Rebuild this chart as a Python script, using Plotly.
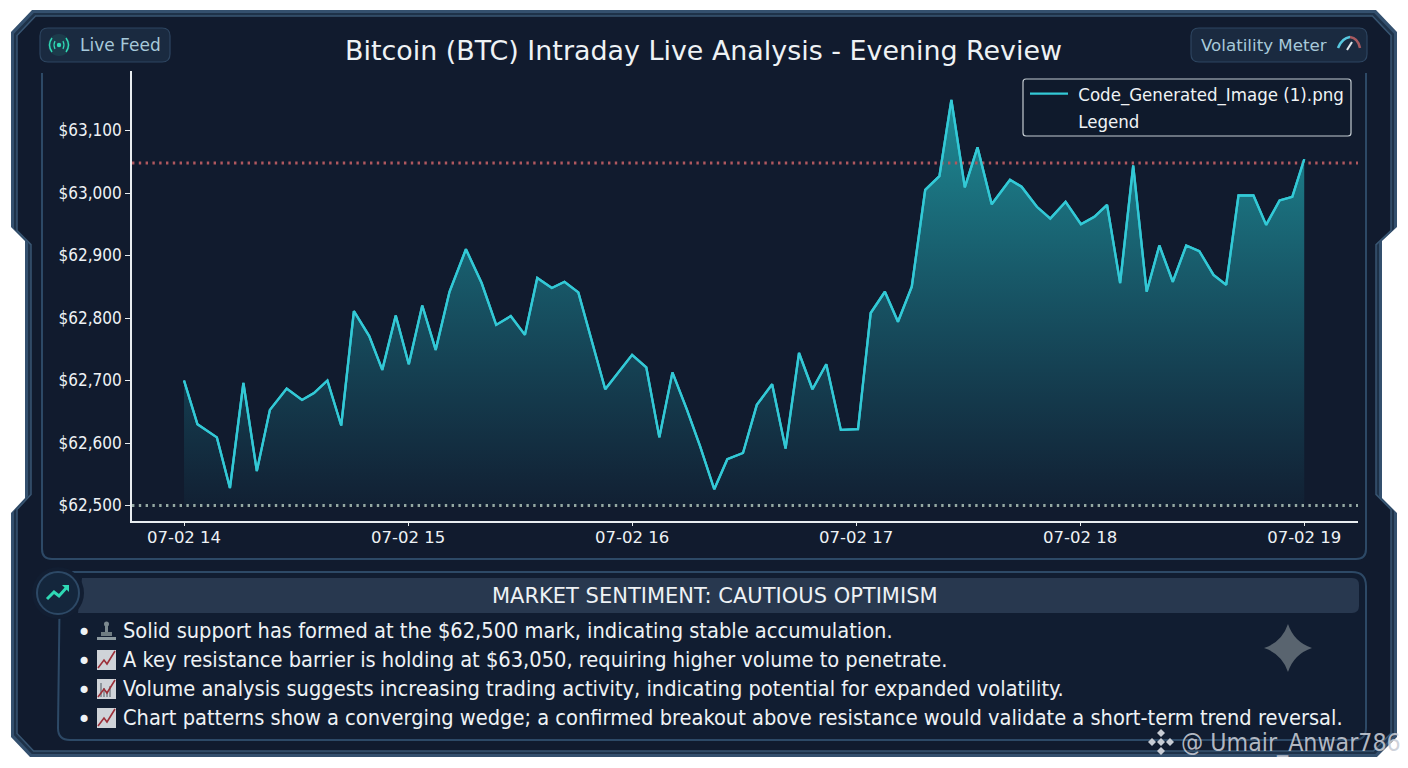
import pandas as pd
import plotly.graph_objects as go

W, H = 1408, 768
TITLE = "Bitcoin (BTC) Intraday Live Analysis - Evening Review"
SERIES_NAME = "\u00a0Code_Generated_Image (1).png"
SECOND_ENTRY = "\u00a0Legend"
BASE_TIME = "2024-07-02 14:00"
minutes = [0, 3.6, 8.8, 12.3, 15.9, 19.5, 23, 27.5, 31.6, 34.8, 38.4, 42.1, 45.5, 49.6, 53.1, 56.7,
           60.2, 63.8, 67.4, 71.1, 75.5, 79.7, 83.6, 87.5, 91.3, 94.6, 98.5, 101.9, 105.6, 112.8,
           120, 123.8, 127.3, 130.8, 134.7, 138.2, 142, 145.5, 149.7, 153.4, 157.5, 161.1, 164.7,
           168.3, 172, 175.9, 180.5, 183.9, 187.7, 191.2, 194.9, 198.5, 202.3, 205.5, 209.1, 212.5,
           216.3, 221.2, 224.3, 228.4, 232, 236.1, 240.2, 243.8, 247.2, 250.7, 254.2, 257.8, 261.2,
           264.8, 268.4, 271.9, 275.7, 279.1, 282.4, 286.4, 289.8, 293.4, 296.8, 300]
prices = [62700, 62630, 62609, 62528, 62696, 62555, 62653, 62687, 62669, 62680, 62700, 62628, 62811,
          62771, 62717, 62804, 62726, 62820, 62749, 62842, 62910, 62856, 62789, 62803, 62773, 62864,
          62848, 62858, 62841, 62686, 62741, 62721, 62609, 62713, 62653, 62595, 62526, 62574, 62584,
          62661, 62694, 62591, 62744, 62686, 62726, 62621, 62622, 62808, 62842, 62794, 62850, 63005,
          63027, 63149, 63009, 63073, 62982, 63021, 63010, 62978, 62959, 62986, 62950, 62962, 62981,
          62856, 63044, 62842, 62916, 62858, 62916, 62907, 62869, 62853, 62996, 62996, 62949, 62988,
          62994, 63054]
RESISTANCE = 63048
SUPPORT = 62500
y_ticks = [62500, 62600, 62700, 62800, 62900, 63000, 63100]
y_tick_labels = ["$62,500", "$62,600", "$62,700", "$62,800", "$62,900", "$63,000", "$63,100"]
x_tick_hours = [14, 15, 16, 17, 18, 19]
x_tick_labels = ["07-02 14", "07-02 15", "07-02 16", "07-02 17", "07-02 18", "07-02 19"]
HEADER = "MARKET SENTIMENT: CAUTIOUS OPTIMISM"
bullets = [
    "Solid support has formed at the $62,500 mark, indicating stable accumulation.",
    "A key resistance barrier is holding at $63,050, requiring higher volume to penetrate.",
    "Volume analysis suggests increasing trading activity, indicating potential for expanded volatility.",
    "Chart patterns show a converging wedge; a confirmed breakout above resistance would validate a short-term trend reversal.",
]

DV = "DejaVu Sans"
DVC = "DejaVu Sans Condensed"
BG = "#111b2e"
EDGE = "#2d4966"
TEAL = "#33c9d6"
MINT = "#2fd8b4"


def X(x):
    return x / W


def Y(y):
    return 1 - y / H


def pts(points, close=True):
    s = " ".join(("M" if i == 0 else "L") + f"{X(a):.5f},{Y(b):.5f}" for i, (a, b) in enumerate(points))
    return s + (" Z" if close else "")


def rrect(x0, y0, x1, y1, r):
    return (f"M{X(x0+r):.5f},{Y(y0):.5f} L{X(x1-r):.5f},{Y(y0):.5f} Q{X(x1):.5f},{Y(y0):.5f} {X(x1):.5f},{Y(y0+r):.5f} "
            f"L{X(x1):.5f},{Y(y1-r):.5f} Q{X(x1):.5f},{Y(y1):.5f} {X(x1-r):.5f},{Y(y1):.5f} "
            f"L{X(x0+r):.5f},{Y(y1):.5f} Q{X(x0):.5f},{Y(y1):.5f} {X(x0):.5f},{Y(y1-r):.5f} "
            f"L{X(x0):.5f},{Y(y0+r):.5f} Q{X(x0):.5f},{Y(y0):.5f} {X(x0+r):.5f},{Y(y0):.5f} Z")


shapes = []


def path(d, fill=None, line=None, width=0, layer="below", opacity=1):
    shapes.append(dict(type="path", path=d, xref="paper", yref="paper", fillcolor=fill or "rgba(0,0,0,0)",
                       line=dict(color=line or "rgba(0,0,0,0)", width=width), layer=layer, opacity=opacity))


def circle(cx, cy, r, fill=None, line=None, width=0, opacity=1):
    shapes.append(dict(type="circle", xref="paper", yref="paper", x0=X(cx-r), x1=X(cx+r), y0=Y(cy+r), y1=Y(cy-r),
                       fillcolor=fill or "rgba(0,0,0,0)", line=dict(color=line or "rgba(0,0,0,0)", width=width),
                       layer="below", opacity=opacity))


def frame(i):
    return [(32 + i * .6, 10 + i), (1376 - i * .6, 10 + i), (1397 - i, 32 + i * .6), (1397 - i, 227 + i * .6),
            (1382 - i, 241 + i * .6), (1382 - i, 498 - i * .6), (1397 - i, 513 - i * .6), (1397 - i, 737 - i * .6),
            (1377 - i * .6, 757 - i), (30 + i * .6, 757 - i), (11 + i, 737 - i * .6), (11 + i, 513 - i * .6),
            (25 + i, 498 - i * .6), (25 + i, 241 + i * .6), (11 + i, 227 + i * .6), (11 + i, 32 + i * .6)]


path(pts(frame(0)), fill="#34506e")
path(pts(frame(3)), fill="#1e3249")
path(pts(frame(6)), fill=BG, line="#385572", width=1.5)

# chart panel: open at the top
path(f"M{X(42):.5f},{Y(73):.5f} L{X(42):.5f},{Y(549):.5f} Q{X(42):.5f},{Y(559):.5f} {X(52):.5f},{Y(559):.5f} "
     f"L{X(1356):.5f},{Y(559):.5f} Q{X(1366):.5f},{Y(559):.5f} {X(1366):.5f},{Y(549):.5f} L{X(1366):.5f},{Y(73):.5f}",
     line=EDGE, width=2)

# lower panel
path(f"M{X(60):.5f},{Y(572):.5f} L{X(1352):.5f},{Y(572):.5f} Q{X(1366):.5f},{Y(572):.5f} {X(1366):.5f},{Y(586):.5f} "
     f"L{X(1366):.5f},{Y(728):.5f} Q{X(1366):.5f},{Y(740):.5f} {X(1354):.5f},{Y(740):.5f} L{X(70):.5f},{Y(740):.5f} "
     f"Q{X(58):.5f},{Y(740):.5f} {X(58):.5f},{Y(728):.5f} Z", fill="#111d31", line=EDGE, width=2)
path(f"M{X(82):.5f},{Y(578):.5f} L{X(1352):.5f},{Y(578):.5f} Q{X(1359):.5f},{Y(578):.5f} {X(1359):.5f},{Y(585):.5f} "
     f"L{X(1359):.5f},{Y(606):.5f} Q{X(1359):.5f},{Y(613):.5f} {X(1352):.5f},{Y(613):.5f} L{X(78):.5f},{Y(613):.5f} Z",
     fill="#28384f")
circle(58, 593, 26, fill="#121e32")
circle(58, 593, 21, fill="#14263c", line=EDGE, width=2)
path(pts([(47, 599), (54, 592), (59, 596), (68, 586)], close=False), line=MINT, width=3)
path(pts([(62, 585), (69, 585), (69, 592)]), fill=MINT)

# badges
path(rrect(40, 28, 170, 62, 8), fill="#1a2a40", line="#2d4560", width=1.2)
path(rrect(1191, 28, 1367, 62, 8), fill="#1a2a40", line="#2d4560", width=1.2)
circle(59, 45, 11, fill="rgba(47,216,180,0.10)")
circle(59, 45, 2.2, fill=MINT)
path(f"M{X(52):.5f},{Y(38):.5f} Q{X(47):.5f},{Y(45):.5f} {X(52):.5f},{Y(52):.5f}", line=MINT, width=1.5)
path(f"M{X(66):.5f},{Y(38):.5f} Q{X(71):.5f},{Y(45):.5f} {X(66):.5f},{Y(52):.5f}", line=MINT, width=1.5)
path(f"M{X(55):.5f},{Y(41):.5f} Q{X(53):.5f},{Y(45):.5f} {X(55):.5f},{Y(49):.5f}", line=MINT, width=1.2)
path(f"M{X(63):.5f},{Y(41):.5f} Q{X(65):.5f},{Y(45):.5f} {X(63):.5f},{Y(49):.5f}", line=MINT, width=1.2)
# gauge
path(f"M{X(1338):.5f},{Y(48):.5f} Q{X(1342):.5f},{Y(38):.5f} {X(1350):.5f},{Y(37):.5f}", line="#58c8e0", width=2.5)
path(f"M{X(1350):.5f},{Y(37):.5f} Q{X(1358):.5f},{Y(38):.5f} {X(1360):.5f},{Y(48):.5f}", line="#a85a60", width=2.5)
path(pts([(1347, 50), (1352, 42)], close=False), line="#e0e6ea", width=2)

# legend box
path(rrect(1023, 79, 1351, 136, 3), fill="#0f1a2c", line="#c4ccd2", width=1.2)

# four point star
path(f"M{X(1288):.5f},{Y(624):.5f} Q{X(1294):.5f},{Y(642):.5f} {X(1312):.5f},{Y(648):.5f} "
     f"Q{X(1294):.5f},{Y(654):.5f} {X(1288):.5f},{Y(672):.5f} Q{X(1282):.5f},{Y(654):.5f} {X(1264):.5f},{Y(648):.5f} "
     f"Q{X(1282):.5f},{Y(642):.5f} {X(1288):.5f},{Y(624):.5f} Z", fill="#59646f")

# emoji style icons
path(pts([(97, 637), (116, 637), (116, 640), (97, 640)]), fill="#8d9aa0")
path(pts([(101, 632), (112, 632), (112, 636), (101, 636)]), fill="#6f7c82")
path(pts([(105, 626), (108, 626), (108, 632), (105, 632)]), fill="#7c898f")
circle(106.5, 624, 2.5, fill="#7c898f")
for cy, kind in [(660, "up"), (689, "bars"), (718, "up")]:
    path(pts([(97, cy - 10), (116, cy - 10), (116, cy + 10), (97, cy + 10)]), fill="#cfd3d8")
    if kind == "bars":
        for bx, bh in [(100, 14), (103, 9), (106, 6), (109, 11)]:
            path(pts([(bx, cy + 8 - bh), (bx + 2, cy + 8 - bh), (bx + 2, cy + 8), (bx, cy + 8)]), fill="#8f969d")
    path(pts([(98, cy + 8), (104, cy), (107, cy + 4), (115, cy - 9)], close=False), line="#9c2f38", width=1.6)

# watermark logo
for cx, cy in [(1161, 733), (1161, 751), (1152, 742), (1170, 742)]:
    path(pts([(cx, cy - 4), (cx + 4, cy), (cx, cy + 4), (cx - 4, cy)]), fill="#c8ccd4", layer="above")
path(pts([(1161, 738), (1165, 742), (1161, 746), (1157, 742)]), fill="#c8ccd4", layer="above")

times = pd.Timestamp(BASE_TIME) + pd.to_timedelta(minutes, unit="min")
tick_times = [pd.Timestamp(BASE_TIME).replace(hour=h) for h in x_tick_hours]
x_start = pd.Timestamp(BASE_TIME) - pd.Timedelta(minutes=13.93)
x_end = pd.Timestamp(BASE_TIME) + pd.Timedelta(minutes=314.4)

fig = go.Figure()
fig.add_trace(go.Scatter(x=times, y=prices, mode="lines", name=SERIES_NAME,
                         line=dict(color=TEAL, width=2.3), legendrank=1))
fig.add_trace(go.Scatter(x=times, y=[SUPPORT] * len(times), mode="lines", line=dict(width=0, color="rgba(0,0,0,0)"),
                         name=SECOND_ENTRY, showlegend=True, hoverinfo="skip", legendrank=2))
fig.add_trace(go.Scatter(x=times, y=prices, mode="lines", line=dict(width=0), fill="tonexty",
                         fillgradient=dict(type="vertical", start=SUPPORT, stop=max(prices),
                                           colorscale=[[0, "rgba(30,160,180,0.04)"], [1, "rgba(36,190,195,0.70)"]]),
                         showlegend=False, hoverinfo="skip"))
fig.add_trace(go.Scatter(x=[x_start, x_end], y=[RESISTANCE, RESISTANCE], mode="lines",
                         line=dict(color="#b0585f", width=2.8, dash="2.4px,4.4px"), showlegend=False))
fig.add_trace(go.Scatter(x=[x_start, x_end], y=[SUPPORT, SUPPORT], mode="lines",
                         line=dict(color="#94a8a2", width=2.8, dash="2.4px,4.4px"), showlegend=False))
# the price line again on top of the fill, same values
fig.add_trace(go.Scatter(x=times, y=prices, mode="lines", line=dict(color=TEAL, width=2.3),
                         showlegend=False, hoverinfo="skip"))

annotations = []


def label(x, y, text, size, color="#eef2f5", family=DV, anchor="left"):
    annotations.append(dict(x=X(x), y=Y(y), xref="paper", yref="paper", text=text, showarrow=False, xanchor=anchor,
                            yanchor="middle", font=dict(family=family, size=size, color=color)))


label(703.5, 50.5, TITLE, 26.9, anchor="center")
label(78, 45, "Live Feed", 17, color="#a7c9da")
label(1199, 45, "Volatility Meter", 16.7, color="#a7c9da")
label(714.5, 596, HEADER, 21, family=DV, anchor="center")
for y, text in zip([630, 659, 688, 717], bullets):
    label(75, y + 2.5, "•", 24, family=DV)
    label(121, y, text, 21.65, family=DVC)
label(1179, 742, "@ Umair_Anwar786", 24.7, color="rgba(200,205,214,0.88)", family=DVC)

fig.update_layout(
    width=W, height=H, margin=dict(l=0, r=0, t=0, b=0), paper_bgcolor="white", plot_bgcolor="rgba(0,0,0,0)",
    showlegend=True, shapes=shapes, annotations=annotations,
    legend=dict(x=X(1025), y=Y(75), xanchor="left", yanchor="top", bgcolor="rgba(0,0,0,0)", borderwidth=0,
                font=dict(family=DVC, size=18.5, color="#f0f3f5"), itemwidth=38, traceorder="normal"),
    xaxis=dict(domain=[X(132), X(1358)], range=[x_start, x_end], tickmode="array", tickvals=tick_times,
               ticktext=x_tick_labels, showgrid=False, zeroline=False, showline=True, linecolor="#e8edf0", linewidth=1.6,
               ticks="outside", ticklen=3, tickcolor="#e8edf0", ticklabelstandoff=-3,
               tickfont=dict(family=DV, size=16.5, color="#eef2f5")),
    yaxis=dict(domain=[Y(521), Y(71)], range=[62475.2, 63195.2], tickmode="array", tickvals=y_ticks,
               ticktext=y_tick_labels, showgrid=False, zeroline=False, showline=True, linecolor="#e8edf0",
               linewidth=1.6, ticks="outside", ticklen=5, tickcolor="#e8edf0",
               tickfont=dict(family=DVC, size=17, color="#eef2f5")),
)

fig.write_html("out.html", config=dict(displayModeBar=False),
               post_script="document.body.style.margin='0';document.documentElement.style.overflow='hidden';")
